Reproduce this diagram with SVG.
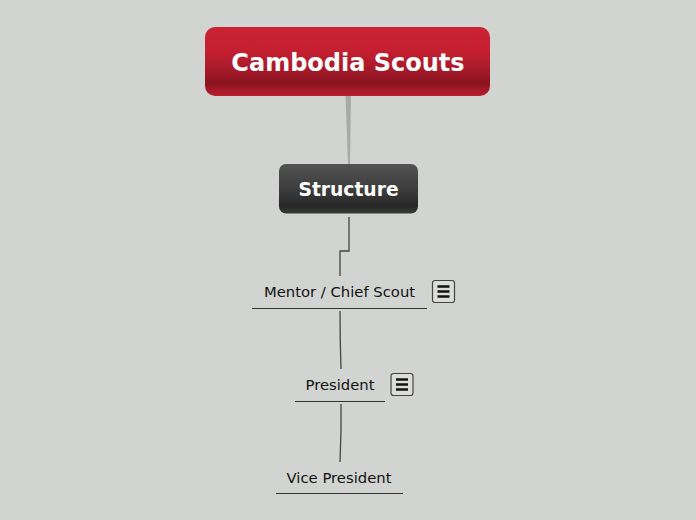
<svg xmlns="http://www.w3.org/2000/svg" width="696" height="520" viewBox="0 0 696 520">
  <defs>
    <linearGradient id="gRoot" x1="0" y1="0" x2="0" y2="1">
      <stop offset="0" stop-color="#cc2234"/>
      <stop offset="0.35" stop-color="#c41f30"/>
      <stop offset="0.6" stop-color="#a81a2a"/>
      <stop offset="0.82" stop-color="#8b1421"/>
      <stop offset="1" stop-color="#bb1e2e"/>
    </linearGradient>
    <linearGradient id="gMain" x1="0" y1="0" x2="0" y2="1">
      <stop offset="0" stop-color="#535353"/>
      <stop offset="0.5" stop-color="#3d3d3d"/>
      <stop offset="0.85" stop-color="#282828"/>
      <stop offset="1" stop-color="#3a3a3a"/>
    </linearGradient>
    <g id="noteIcon">
      <rect x="0.5" y="0.5" width="22" height="22" rx="2.5" fill="#dcdddb" stroke="#444" stroke-width="1.2"/>
      <path d="M5.5 6.5H17.5M5.5 11.5H17.5M5.5 16.5H17.5" stroke="#111" stroke-width="2.6"/>
    </g>
  </defs>
  <style>
    .lbl { font-family: "DejaVu Sans", Verdana, sans-serif; font-size: 14.8px; fill: #111; text-anchor: middle; }
    .conn { fill: none; stroke: #444; stroke-width: 1.3; }
    .ul { stroke: #333; stroke-width: 1.2; }
  </style>
  <rect width="696" height="520" fill="#d2d4d1"/>

  <g id="connectors">
    <polygon points="345.5,96 351,96 350,164 348,164" fill="#a9aaa8"/>
    <path class="conn" d="M349 217V251H340V276"/>
    <path class="conn" d="M340 311Q340 340 341 369"/>
    <path class="conn" d="M341 404V430L340 462"/>
  </g>

  <g id="root">
    <rect x="205" y="27" width="285" height="69" rx="10" fill="url(#gRoot)"/>
    <text x="348" y="70.5" font-family="'DejaVu Sans', Verdana, sans-serif" font-weight="bold" font-size="24" fill="#fff" text-anchor="middle">Cambodia Scouts</text>
  </g>

  <g id="structure">
    <rect x="279" y="164" width="139" height="49.5" rx="7" fill="url(#gMain)"/>
    <text x="348.5" y="195.5" font-family="'DejaVu Sans', Verdana, sans-serif" font-weight="bold" font-size="18.7" fill="#fff" text-anchor="middle">Structure</text>
  </g>

  <g id="mentor">
    <text class="lbl" x="339.5" y="297">Mentor / Chief Scout</text>
    <line class="ul" x1="252" y1="308.5" x2="427" y2="308.5"/>
    <use href="#noteIcon" x="432" y="280"/>
  </g>

  <g id="president">
    <text class="lbl" x="340" y="390">President</text>
    <line class="ul" x1="295" y1="401.5" x2="385" y2="401.5"/>
    <use href="#noteIcon" x="390.5" y="373"/>
  </g>

  <g id="vice-president">
    <text class="lbl" x="339" y="483">Vice President</text>
    <line class="ul" x1="276" y1="493.5" x2="403" y2="493.5"/>
  </g>
</svg>
